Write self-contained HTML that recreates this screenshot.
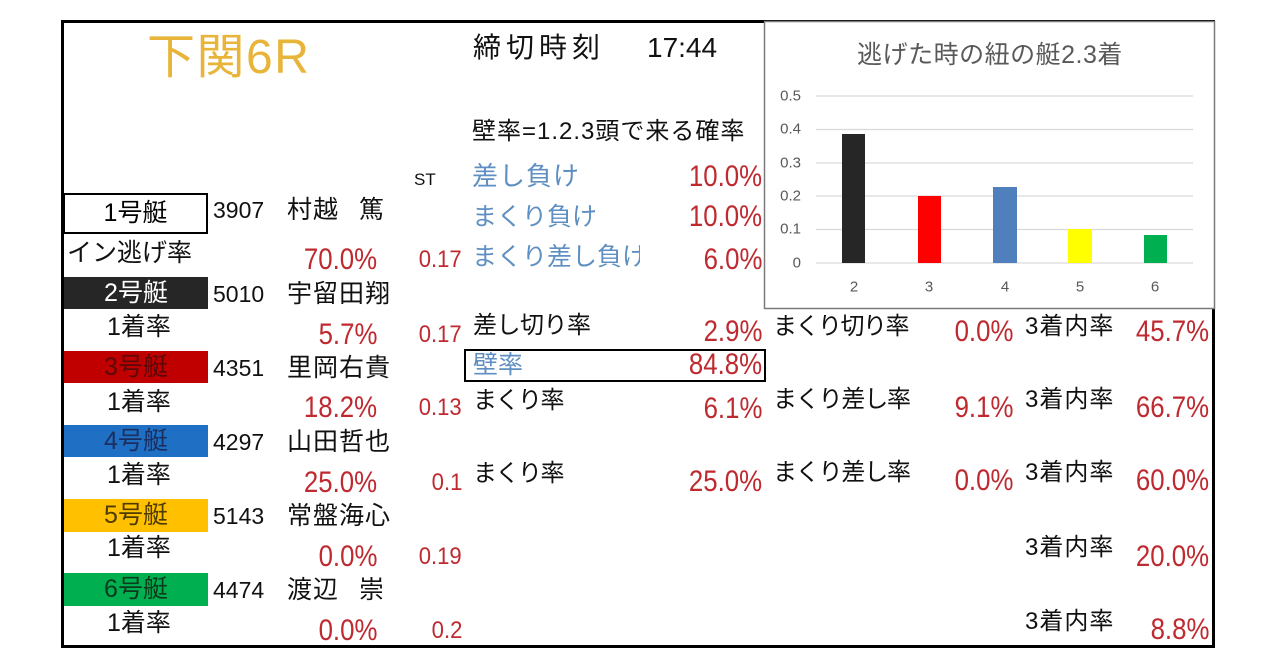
<!DOCTYPE html>
<html><head><meta charset="utf-8">
<style>
html,body{margin:0;padding:0;background:#fff;}
body{width:1280px;height:670px;position:relative;overflow:hidden;font-family:"Liberation Sans","Noto Sans CJK JP",sans-serif;}
.t{position:absolute;white-space:nowrap;height:30px;line-height:30px;color:#111;}
.l25{font-size:25px;}
.l24{font-size:24px;}
.rn{position:absolute;white-space:nowrap;height:34px;line-height:34px;font-size:30px;color:#be2a30;transform:scaleX(.86);transform-origin:100% 50%;text-align:right;}
.rs{position:absolute;white-space:nowrap;height:30px;line-height:30px;font-size:24px;color:#be2a30;transform:scaleX(.92);transform-origin:100% 50%;text-align:right;}
.num{font-size:23px;}
.nm{font-size:25px;letter-spacing:1px;}
.blue{color:#5f8fc2;}
.box{position:absolute;left:64px;width:144px;text-align:center;font-size:25px;box-sizing:border-box;}
</style></head><body>

<div style="position:absolute;left:61px;top:20px;width:1154px;height:628px;border:3px solid #000;box-sizing:border-box;"></div>

<div class="t" style="left:147px;top:34px;height:48px;line-height:48px;font-size:48px;color:#e8b43a;letter-spacing:1.5px;">下関6R</div>

<div class="t" style="left:473px;top:32px;height:32px;line-height:32px;font-size:28px;letter-spacing:5px;">締切時刻</div>
<div class="t" style="left:647px;top:32px;height:32px;line-height:32px;font-size:28px;">17:44</div>

<div class="t l24" style="left:472px;top:117px;letter-spacing:1px;">壁率=1.2.3頭で来る確率</div>
<div class="t" style="left:414px;top:165px;font-size:17px;">ST</div>
<div class="t blue" style="left:472px;top:161px;font-size:26px;letter-spacing:1px;">差し負け</div>
<div class="rn" style="right:518px;top:160px;">10.0%</div>
<div class="t blue" style="left:472px;top:202px;font-size:25px;letter-spacing:0px;">まくり負け</div>
<div class="rn" style="right:518px;top:200px;">10.0%</div>
<div class="t blue" style="left:472px;top:242px;font-size:25px;width:168px;overflow:hidden;">まくり差し負け</div>
<div class="rn" style="right:518px;top:243px;">6.0%</div>

<!-- boat 1 -->
<div class="box" style="top:193px;height:41px;line-height:37px;border:2px solid #000;left:63px;width:145px;">1号艇</div>
<div class="t num" style="left:213px;top:195px;">3907</div>
<div class="t nm" style="left:287px;top:195px;">村越<span style="margin-left:20px;">篤</span></div>
<div class="t l25" style="left:67px;top:238px;">イン逃げ率</div>
<div class="rn" style="right:903px;top:243px;">70.0%</div>
<div class="rs" style="right:818px;top:245px;">0.17</div>

<!-- boat 2 -->
<div class="box" style="top:277px;height:32px;line-height:32px;background:#262626;color:#fff;">2号艇</div>
<div class="t num" style="left:213px;top:279px;">5010</div>
<div class="t nm" style="left:287px;top:279px;">宇留田翔</div>
<div class="t l25" style="left:107px;top:312px;">1着率</div>
<div class="rn" style="right:903px;top:318px;">5.7%</div>
<div class="rs" style="right:818px;top:320px;">0.17</div>

<!-- boat 3 -->
<div class="box" style="top:351px;height:32px;line-height:32px;background:#c00000;color:#5a0808;">3号艇</div>
<div class="t num" style="left:213px;top:353px;">4351</div>
<div class="t nm" style="left:287px;top:353px;">里岡右貴</div>
<div class="t l25" style="left:107px;top:387px;">1着率</div>
<div class="rn" style="right:903px;top:391px;">18.2%</div>
<div class="rs" style="right:818px;top:393px;">0.13</div>

<!-- boat 4 -->
<div class="box" style="top:425px;height:32px;line-height:32px;background:#1f6fc4;color:#1b2f5e;">4号艇</div>
<div class="t num" style="left:213px;top:427px;">4297</div>
<div class="t nm" style="left:287px;top:427px;">山田哲也</div>
<div class="t l25" style="left:107px;top:460px;">1着率</div>
<div class="rn" style="right:903px;top:466px;">25.0%</div>
<div class="rs" style="right:818px;top:468px;">0.1</div>

<!-- boat 5 -->
<div class="box" style="top:499px;height:33px;line-height:33px;background:#ffc000;color:#4d3b00;">5号艇</div>
<div class="t num" style="left:213px;top:501px;">5143</div>
<div class="t nm" style="left:287px;top:501px;">常盤海心</div>
<div class="t l25" style="left:107px;top:533px;">1着率</div>
<div class="rn" style="right:903px;top:540px;">0.0%</div>
<div class="rs" style="right:818px;top:542px;">0.19</div>

<!-- boat 6 -->
<div class="box" style="top:573px;height:33px;line-height:33px;background:#00b050;color:#0b3b1c;">6号艇</div>
<div class="t num" style="left:213px;top:575px;">4474</div>
<div class="t nm" style="left:287px;top:575px;">渡辺<span style="margin-left:20px;">崇</span></div>
<div class="t l25" style="left:107px;top:608px;">1着率</div>
<div class="rn" style="right:903px;top:614px;">0.0%</div>
<div class="rs" style="right:818px;top:616px;">0.2</div>

<!-- middle lower -->
<div class="t l24" style="left:473px;top:311px;letter-spacing:-0.5px;">差し切り率</div>
<div class="rn" style="right:518px;top:315px;">2.9%</div>
<div style="position:absolute;left:464px;top:349px;width:302px;height:33px;border:2.5px solid #000;box-sizing:border-box;"></div>
<div class="t blue" style="left:473px;top:350px;font-size:25px;">壁率</div>
<div class="rn" style="right:518px;top:348px;">84.8%</div>
<div class="t l24" style="left:473px;top:386px;letter-spacing:-1.5px;">まくり率</div>
<div class="rn" style="right:518px;top:392px;">6.1%</div>
<div class="t l24" style="left:473px;top:459px;letter-spacing:-1.5px;">まくり率</div>
<div class="rn" style="right:518px;top:465px;">25.0%</div>

<!-- right lower -->
<div class="t l24" style="left:773px;top:312px;letter-spacing:-1.5px;">まくり切り率</div>
<div class="rn" style="right:267px;top:315px;">0.0%</div>
<div class="t l24" style="left:773px;top:385px;letter-spacing:-1.2px;">まくり差し率</div>
<div class="rn" style="right:267px;top:391px;">9.1%</div>
<div class="t l24" style="left:773px;top:458px;letter-spacing:-1.2px;">まくり差し率</div>
<div class="rn" style="right:267px;top:464px;">0.0%</div>

<div class="t l24" style="left:1025px;top:312px;letter-spacing:1px;">3着内率</div>
<div class="rn" style="right:71px;top:315px;">45.7%</div>
<div class="t l24" style="left:1025px;top:385px;letter-spacing:1px;">3着内率</div>
<div class="rn" style="right:71px;top:391px;">66.7%</div>
<div class="t l24" style="left:1025px;top:458px;letter-spacing:1px;">3着内率</div>
<div class="rn" style="right:71px;top:464px;">60.0%</div>
<div class="t l24" style="left:1025px;top:533px;letter-spacing:1px;">3着内率</div>
<div class="rn" style="right:71px;top:540px;">20.0%</div>
<div class="t l24" style="left:1025px;top:607px;letter-spacing:1px;">3着内率</div>
<div class="rn" style="right:71px;top:613px;">8.8%</div>

<!-- chart -->
<svg style="position:absolute;left:0;top:0;" width="1280" height="670" xmlns="http://www.w3.org/2000/svg">
  <rect x="764.5" y="21.5" width="450" height="287" fill="#fff" stroke="#7a7a7a" stroke-width="1.5"/>
  <text x="990" y="55" text-anchor="middle" dominant-baseline="central" font-family="Liberation Sans, Noto Sans CJK JP, sans-serif" font-size="25" fill="#595959" letter-spacing="0.5">逃げた時の紐の艇2.3着</text>
  <g stroke="#d9d9d9" stroke-width="1.2">
    <line x1="816" y1="96" x2="1193" y2="96"/>
    <line x1="816" y1="129.5" x2="1193" y2="129.5"/>
    <line x1="816" y1="163" x2="1193" y2="163"/>
    <line x1="816" y1="196" x2="1193" y2="196"/>
    <line x1="816" y1="229.5" x2="1193" y2="229.5"/>
    <line x1="816" y1="263" x2="1193" y2="263"/>
  </g>
  <g font-family="Liberation Sans, sans-serif" font-size="15" fill="#595959" text-anchor="end" dominant-baseline="central">
    <text x="801" y="96">0.5</text>
    <text x="801" y="129">0.4</text>
    <text x="801" y="163">0.3</text>
    <text x="801" y="196">0.2</text>
    <text x="801" y="229">0.1</text>
    <text x="801" y="263">0</text>
  </g>
  <rect x="842" y="134" width="23" height="129" fill="#262626"/>
  <rect x="918" y="196" width="23" height="67" fill="#ff0000"/>
  <rect x="993" y="187" width="24" height="76" fill="#4f7fbd"/>
  <rect x="1068" y="229" width="24" height="34" fill="#ffff00"/>
  <rect x="1144" y="235" width="23" height="28" fill="#00b050"/>
  <g font-family="Liberation Sans, sans-serif" font-size="15" fill="#595959" text-anchor="middle" dominant-baseline="central">
    <text x="854" y="287">2</text>
    <text x="929" y="287">3</text>
    <text x="1005" y="287">4</text>
    <text x="1080" y="287">5</text>
    <text x="1155" y="287">6</text>
  </g>
</svg>
</body></html>
